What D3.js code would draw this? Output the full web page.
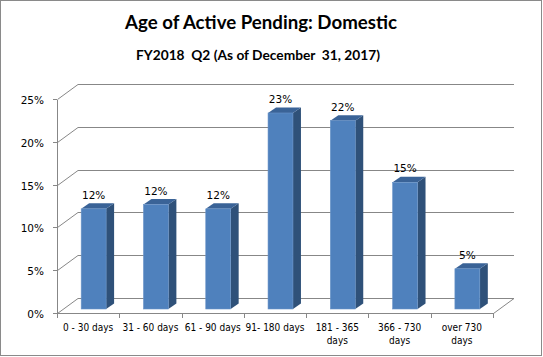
<!DOCTYPE html>
<html><head><meta charset="utf-8">
<script src="https://cdn.jsdelivr.net/npm/d3@7"></script>
<style>body{margin:0;background:#fff}</style>
</head><body>
<svg id="c" width="543" height="357"></svg>
<script>
const title = "Age of Active Pending: Domestic";
const subtitle = "FY2018  Q2 (As of December  31, 2017)";
const categories = ["0 - 30 days","31 - 60 days","61 - 90 days","91- 180 days","181 - 365 days","366 - 730 days","over 730 days"];
const values = [0.117, 0.122, 0.117, 0.229, 0.220, 0.148, 0.047];
const yTicks = [0, 0.05, 0.10, 0.15, 0.20, 0.25];

const svg = d3.select("#c");
const W = 543, H = 357;
const depth = {dx: 21, dy: -15};      // back wall offset
const barFront = {dx: 5.5, dy: -4};   // bar front face offset
const barDepth = {dx: 8, dy: -5.5};   // bar thickness offset
const grid = "#878787";

svg.append("rect").attr("x",0.5).attr("y",0.5).attr("width",W-2).attr("height",H-2)
  .attr("fill","#fff").attr("stroke","#8a8a8a");

const x = d3.scaleBand().domain(categories).range([57, 493]).padding(0);
const y = d3.scaleLinear().domain([0, 0.25]).range([313, 99]);
const fmt = d3.format(".0%");

// Title
svg.append("text").attr("x",261).attr("y",29).attr("text-anchor","middle")
  .attr("font-family","Lato, 'Open Sans', sans-serif").attr("font-weight","bold")
  .attr("font-size",19.5).attr("textLength",272).attr("lengthAdjust","spacingAndGlyphs")
  .attr("fill","#000").text(title);
svg.append("text").attr("x",258).attr("y",60).attr("text-anchor","middle")
  .attr("font-family","Lato, 'Open Sans', sans-serif").attr("font-weight","bold")
  .attr("font-size",14).attr("textLength",244).attr("lengthAdjust","spacingAndGlyphs")
  .attr("fill","#000").style("white-space","pre").attr("xml:space","preserve").text(subtitle);

const g = svg.append("g").attr("shape-rendering","crispEdges");
const x0 = x.range()[0], x1 = x.range()[1];

// back wall gridlines + left wall diagonals
yTicks.forEach(t => {
  const yy = Math.round(y(t)) + 0.5;
  g.append("line").attr("x1", x0+depth.dx).attr("x2", x1+depth.dx)
    .attr("y1", yy+depth.dy).attr("y2", yy+depth.dy).attr("stroke", grid);
  svg.append("line").attr("x1", x0+0.5).attr("y1", yy).attr("x2", x0+depth.dx).attr("y2", yy+depth.dy)
    .attr("stroke", grid);
  g.append("line").attr("x1", x0-4).attr("x2", x0).attr("y1", yy).attr("y2", yy).attr("stroke", grid);
  svg.append("text").attr("x", 44).attr("y", yy+4)
    .attr("text-anchor","end").attr("font-family","'DejaVu Sans', Verdana, sans-serif")
    .attr("font-size",10.5).attr("fill","#000").text(fmt(t));
});
const yb = Math.round(y(0)) + 0.5;
svg.append("line").attr("x1", x1+0.5).attr("y1", yb).attr("x2", x1+depth.dx).attr("y2", yb+depth.dy).attr("stroke", grid);
g.append("line").attr("x1", x0+0.5).attr("x2", x0+0.5).attr("y1", Math.round(y(0.25))+0.5).attr("y2", yb).attr("stroke", grid);
g.append("line").attr("x1", x0).attr("x2", x1+0.5).attr("y1", yb).attr("y2", yb).attr("stroke", grid);
categories.forEach((c,i) => {
  const xx = Math.round(x(c)) + 0.5;
  g.append("line").attr("x1", xx).attr("x2", xx).attr("y1", yb).attr("y2", yb+4).attr("stroke", grid);
});
g.append("line").attr("x1", x1+0.5).attr("x2", x1+0.5).attr("y1", yb).attr("y2", yb+4).attr("stroke", grid);

// bars
const bw = x.bandwidth() * 0.4;
const bars = svg.append("g").selectAll("g").data(categories.map((c,i)=>({c, v: values[i]}))).join("g");
bars.each(function(d){
  const gg = d3.select(this);
  const cx = x(d.c) + x.bandwidth()/2 + barFront.dx;
  const xl = cx - bw/2, xr = cx + bw/2;
  const yt = y(d.v) + barFront.dy, ybot = y(0) + barFront.dy;
  const ddx = barDepth.dx, ddy = barDepth.dy;
  gg.append("polygon").attr("points", [[xr,yt],[xr+ddx,yt+ddy],[xr+ddx,ybot+ddy],[xr,ybot]].join(" "))
    .attr("fill","#2f5179");
  gg.append("polygon").attr("points", [[xl,yt],[xl+ddx,yt+ddy],[xr+ddx,yt+ddy],[xr,yt]].join(" "))
    .attr("fill","#3a6397");
  gg.append("rect").attr("x", xl).attr("y", yt).attr("width", bw).attr("height", ybot-yt)
    .attr("fill","#4f81bd").attr("stroke","#6a94c8").attr("stroke-width",0.6);
  gg.append("text").attr("x", cx).attr("y", yt - 10).attr("text-anchor","middle")
    .attr("font-family","'DejaVu Sans', Verdana, sans-serif").attr("font-size",10.5)
    .attr("fill","#000").text(fmt(d.v));
});

// category labels
categories.forEach(c => {
  let lines = [c];
  if (c.length > 12) { const k = c.lastIndexOf(" "); lines = [c.slice(0,k), c.slice(k+1)]; }
  const t = svg.append("text").attr("x", x(c) + x.bandwidth()/2).attr("y", 331)
    .attr("text-anchor","middle").attr("font-family","'DejaVu Sans Condensed', 'DejaVu Sans', sans-serif")
    .attr("font-size",10).attr("fill","#000");
  lines.forEach((l,j) => t.append("tspan").attr("x", x(c) + x.bandwidth()/2).attr("dy", j ? 13 : 0).text(l));
});
</script>
</body></html>
